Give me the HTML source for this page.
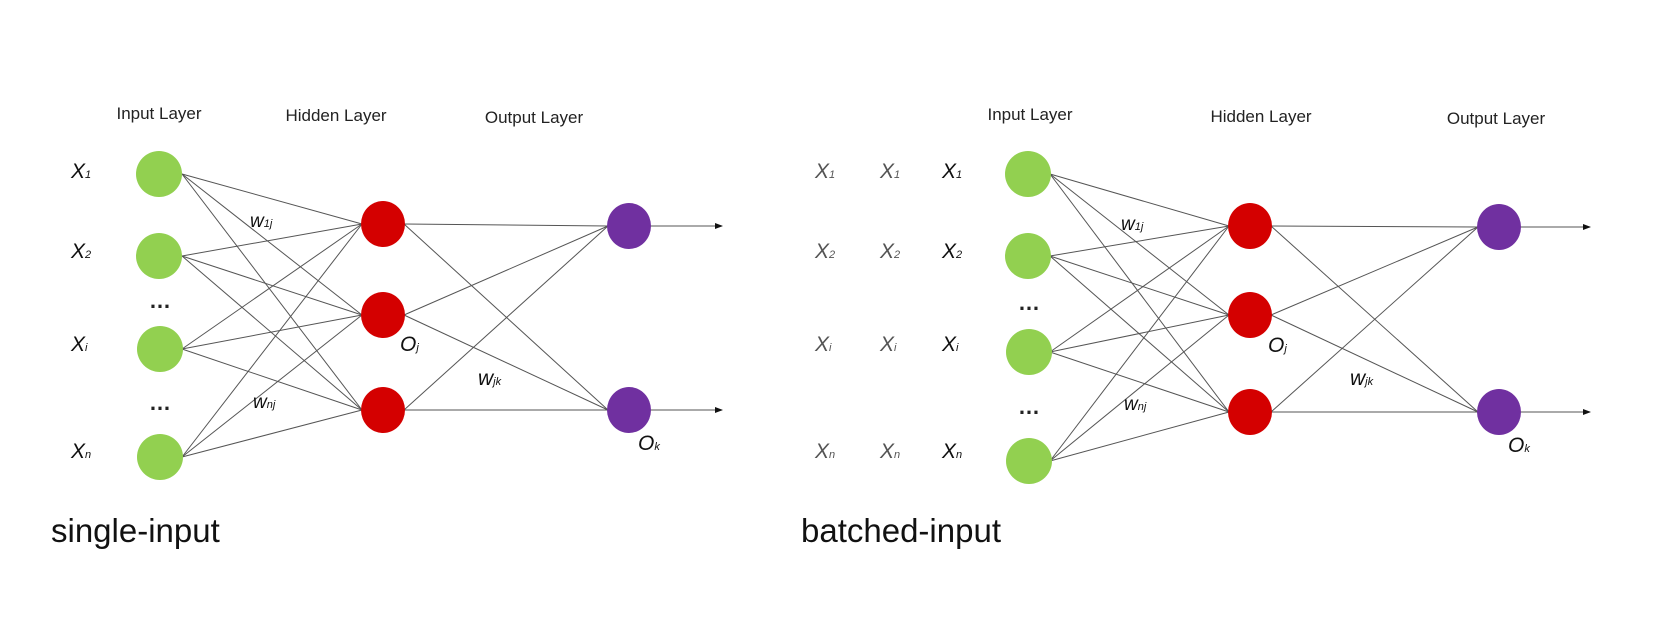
<!DOCTYPE html>
<html><head><meta charset="utf-8"><style>
html,body{margin:0;padding:0;background:#fff;}
svg{display:block;}
text{font-family:"Liberation Sans",sans-serif;}
.t{font-size:17px;fill:#222;text-anchor:middle;}
.x{font-size:21px;font-style:italic;fill:#111;}
.g{fill:#555;}
.s{font-size:11px;}
.cap{font-size:33px;fill:#111;}
line{stroke:#555;stroke-width:1;}
</style></head><body>
<svg width="1658" height="624" viewBox="0 0 1658 624" xmlns="http://www.w3.org/2000/svg">
<defs><marker id="a" markerWidth="8" markerHeight="8" refX="7" refY="4" orient="auto"><path d="M0,1 L8,4 L0,7z" fill="#111"/></marker></defs>

<!-- LEFT -->
<g>
<text class="t" x="159" y="119">Input Layer</text>
<text class="t" x="336" y="121">Hidden Layer</text>
<text class="t" x="534" y="123">Output Layer</text>
<!-- input->hidden -->
<g>
<line x1="182" y1="174" x2="362" y2="224"/><line x1="182" y1="174" x2="362" y2="315"/><line x1="182" y1="174" x2="362" y2="410"/>
<line x1="182" y1="256" x2="362" y2="224"/><line x1="182" y1="256" x2="362" y2="315"/><line x1="182" y1="256" x2="362" y2="410"/>
<line x1="182" y1="349" x2="362" y2="224"/><line x1="182" y1="349" x2="362" y2="315"/><line x1="182" y1="349" x2="362" y2="410"/>
<line x1="182" y1="457" x2="362" y2="224"/><line x1="182" y1="457" x2="362" y2="315"/><line x1="182" y1="457" x2="362" y2="410"/>
<line x1="404" y1="224" x2="608" y2="226"/><line x1="404" y1="224" x2="608" y2="410"/>
<line x1="404" y1="315" x2="608" y2="226"/><line x1="404" y1="315" x2="608" y2="410"/>
<line x1="404" y1="410" x2="608" y2="226"/><line x1="404" y1="410" x2="608" y2="410"/>
<line x1="650" y1="226" x2="722" y2="226" marker-end="url(#a)"/>
<line x1="650" y1="410" x2="722" y2="410" marker-end="url(#a)"/>
</g>
<g fill="#92d050">
<ellipse cx="159" cy="174" rx="23" ry="23"/><ellipse cx="159" cy="256" rx="23" ry="23"/><ellipse cx="160" cy="349" rx="23" ry="23"/><ellipse cx="160" cy="457" rx="23" ry="23"/>
</g>
<g fill="#d40000">
<ellipse cx="383" cy="224" rx="22" ry="23"/><ellipse cx="383" cy="315" rx="22" ry="23"/><ellipse cx="383" cy="410" rx="22" ry="23"/>
</g>
<g fill="#7030a0">
<ellipse cx="629" cy="226" rx="22" ry="23"/><ellipse cx="629" cy="410" rx="22" ry="23"/>
</g>
<text class="t" x="160" y="308" style="font-size:22px;font-weight:bold">…</text>
<text class="t" x="160" y="410" style="font-size:22px;font-weight:bold">…</text>
<text class="x" x="71" y="178">X<tspan class="s">1</tspan></text>
<text class="x" x="71" y="258">X<tspan class="s">2</tspan></text>
<text class="x" x="71" y="351">X<tspan class="s">i</tspan></text>
<text class="x" x="71" y="458">X<tspan class="s">n</tspan></text>
<text class="x" x="250" y="227" style="font-size:19px">w<tspan class="s">1j</tspan></text>
<text class="x" x="253" y="408" style="font-size:19px">w<tspan class="s">nj</tspan></text>
<text class="x" x="400" y="351">O<tspan class="s">j</tspan></text>
<text class="x" x="478" y="385">w<tspan class="s">jk</tspan></text>
<text class="x" x="638" y="450">O<tspan class="s">k</tspan></text>
<text class="cap" x="51" y="542">single-input</text>
</g>

<!-- RIGHT -->
<g>
<text class="t" x="1030" y="120">Input Layer</text>
<text class="t" x="1261" y="122">Hidden Layer</text>
<text class="t" x="1496" y="124">Output Layer</text>
<g>
<line x1="1050" y1="174" x2="1229" y2="226"/><line x1="1050" y1="174" x2="1229" y2="315"/><line x1="1050" y1="174" x2="1229" y2="412"/>
<line x1="1050" y1="256" x2="1229" y2="226"/><line x1="1050" y1="256" x2="1229" y2="315"/><line x1="1050" y1="256" x2="1229" y2="412"/>
<line x1="1050" y1="352" x2="1229" y2="226"/><line x1="1050" y1="352" x2="1229" y2="315"/><line x1="1050" y1="352" x2="1229" y2="412"/>
<line x1="1050" y1="461" x2="1229" y2="226"/><line x1="1050" y1="461" x2="1229" y2="315"/><line x1="1050" y1="461" x2="1229" y2="412"/>
<line x1="1271" y1="226" x2="1478" y2="227"/><line x1="1271" y1="226" x2="1478" y2="412"/>
<line x1="1271" y1="315" x2="1478" y2="227"/><line x1="1271" y1="315" x2="1478" y2="412"/>
<line x1="1271" y1="412" x2="1478" y2="227"/><line x1="1271" y1="412" x2="1478" y2="412"/>
<line x1="1520" y1="227" x2="1590" y2="227" marker-end="url(#a)"/>
<line x1="1520" y1="412" x2="1590" y2="412" marker-end="url(#a)"/>
</g>
<g fill="#92d050">
<ellipse cx="1028" cy="174" rx="23" ry="23"/><ellipse cx="1028" cy="256" rx="23" ry="23"/><ellipse cx="1029" cy="352" rx="23" ry="23"/><ellipse cx="1029" cy="461" rx="23" ry="23"/>
</g>
<g fill="#d40000">
<ellipse cx="1250" cy="226" rx="22" ry="23"/><ellipse cx="1250" cy="315" rx="22" ry="23"/><ellipse cx="1250" cy="412" rx="22" ry="23"/>
</g>
<g fill="#7030a0">
<ellipse cx="1499" cy="227" rx="22" ry="23"/><ellipse cx="1499" cy="412" rx="22" ry="23"/>
</g>
<text class="t" x="1029" y="310" style="font-size:22px;font-weight:bold">…</text>
<text class="t" x="1029" y="414" style="font-size:22px;font-weight:bold">…</text>
<g class="g">
<text class="x g" x="815" y="178">X<tspan class="s">1</tspan></text>
<text class="x g" x="815" y="258">X<tspan class="s">2</tspan></text>
<text class="x g" x="815" y="351">X<tspan class="s">i</tspan></text>
<text class="x g" x="815" y="458">X<tspan class="s">n</tspan></text>
<text class="x g" x="880" y="178">X<tspan class="s">1</tspan></text>
<text class="x g" x="880" y="258">X<tspan class="s">2</tspan></text>
<text class="x g" x="880" y="351">X<tspan class="s">i</tspan></text>
<text class="x g" x="880" y="458">X<tspan class="s">n</tspan></text>
</g>
<text class="x" x="942" y="178">X<tspan class="s">1</tspan></text>
<text class="x" x="942" y="258">X<tspan class="s">2</tspan></text>
<text class="x" x="942" y="351">X<tspan class="s">i</tspan></text>
<text class="x" x="942" y="458">X<tspan class="s">n</tspan></text>
<text class="x" x="1121" y="230" style="font-size:19px">w<tspan class="s">1j</tspan></text>
<text class="x" x="1124" y="410" style="font-size:19px">w<tspan class="s">nj</tspan></text>
<text class="x" x="1268" y="352">O<tspan class="s">j</tspan></text>
<text class="x" x="1350" y="385">w<tspan class="s">jk</tspan></text>
<text class="x" x="1508" y="452">O<tspan class="s">k</tspan></text>
<text class="cap" x="801" y="542">batched-input</text>
</g>
</svg>
</body></html>
